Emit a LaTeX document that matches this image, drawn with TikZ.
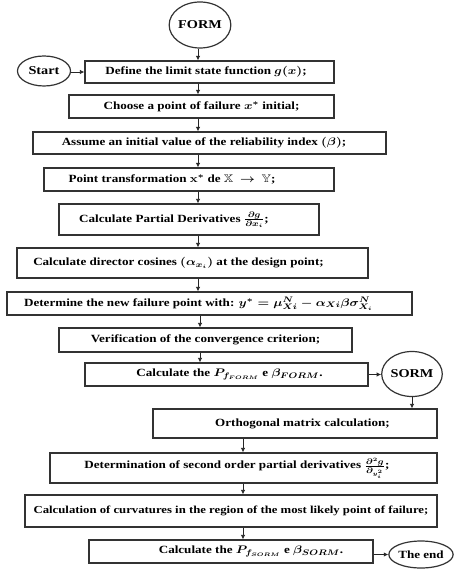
\documentclass[tikz,border=0pt]{standalone}
\usepackage{fontspec}
\setmainfont{Liberation Serif}
\usepackage{amsmath,amssymb}
\usepackage{graphicx}
\usetikzlibrary{shapes.geometric,arrows.meta}
\newcommand{\ST}[1]{\scalebox{1.19}[1]{\bfseries\boldmath #1}}
\newcommand{\TL}[2]{\ST{#2}\hspace*{#1}}
\newcommand{\TR}[2]{\hspace*{#1}\ST{#2}}
\begin{document}
\begin{tikzpicture}[x=1pt,y=-1pt,
  box/.style={draw=black!80, line width=1.3pt, rectangle, inner sep=0pt, font=\fontsize{11}{13}\selectfont},
  term/.style={ellipse, draw=black!80, line width=1.2pt, inner sep=0pt, font=\fontsize{12}{14}\selectfont},
  arr/.style={-{Latex[length=4.5pt,width=4.5pt]}, line width=0.8pt, draw=black!85}]
\useasboundingbox (0,0) rectangle (474,577);
\fill[white] (0,0) rectangle (474,577);
% terminals
\node[term, minimum width=54pt, minimum height=46pt] (form) at (200,25) {\ST{FORM}};
\node[term, minimum width=53pt, minimum height=30pt] (start) at (44,71) {\ST{Start}};
\node[term, minimum width=53pt, minimum height=45pt] (sorm) at (412,374) {\ST{SORM}};
\node[term, minimum width=57pt, minimum height=27pt, font=\fontsize{11}{13}\selectfont] (end) at (421,554.5) {\ST{The end}};
% boxes
\node[box, minimum width=249pt, minimum height=22pt] (b1) at (209.5,72) {\TL{7pt}{Define the limit state function $g(x)$;}};
\node[box, minimum width=265pt, minimum height=23pt] (b2) at (201.5,106.5) {\ST{Choose a point of failure $x^{*}$ initial;}};
\node[box, minimum width=353pt, minimum height=22pt] (b3) at (209.5,143) {\TL{11pt}{Assume an initial value of the reliability index $(\beta)$;}};
\node[box, minimum width=290pt, minimum height=23pt] (b4) at (189,179.5) {\TL{34pt}{Point transformation $\mathbf{x}^{*}$ de $\mathbb{X}\,\rightarrow\,\mathbb{Y}$;}};
\node[box, minimum width=260pt, minimum height=31pt] (b5) at (189,219.5) {\TL{30pt}{Calculate Partial Derivatives $\frac{\partial g}{\partial x_i}$;}};
\node[box, minimum width=351pt, minimum height=30pt] (b6) at (192.5,263) {\TL{28pt}{Calculate director cosines $(\alpha_{x_i})$ at the design point;}};
\node[box, minimum width=405pt, minimum height=23pt] (b7) at (209.5,303.5) {\TL{22pt}{Determine the new failure point with: $y^{*} = \mu^{N}_{Xi} - \alpha_{Xi}\beta\sigma^{N}_{X_i}$}};
\node[box, minimum width=293pt, minimum height=24pt] (b8) at (205.5,340) {\ST{Verification of the convergence criterion;}};
\node[box, minimum width=283pt, minimum height=23pt] (b9) at (226.5,374.5) {\TR{6pt}{Calculate the $P_{f_{FORM}}$ e $\beta_{FORM}$.}};
\node[box, minimum width=284pt, minimum height=29pt] (b10) at (295,423.5) {\TR{15pt}{Orthogonal matrix calculation;}};
\node[box, minimum width=387pt, minimum height=30pt] (b11) at (243.5,468) {\TL{13pt}{Determination of second order partial derivatives $\frac{\partial^2 g}{\partial_{y_i^2}}$;}};
\node[box, minimum width=412pt, minimum height=32pt, font=\fontsize{10.7}{13}\selectfont] (b12) at (231,511) {\ST{Calculation of curvatures in the region of the most likely point of failure;}};
\node[box, minimum width=284pt, minimum height=23pt] (b13) at (231,551.5) {\TR{40pt}{Calculate the $P_{f_{SORM}}$ e $\beta_{SORM}$.}};
% connector columns
\coordinate (ca) at (198,0);
\coordinate (cb) at (200,0);
\coordinate (cc) at (243,0);
% connectors
\draw[arr] (form.south -| ca) -- (b1.north -| ca);
\draw[arr] (start.east |- b1.west) -- (b1.west);
\draw[arr] (b1.south -| ca) -- (b2.north -| ca);
\draw[arr] (b2.south -| ca) -- (b3.north -| ca);
\draw[arr] (b3.south -| ca) -- (b4.north -| ca);
\draw[arr] (b4.south -| ca) -- (b5.north -| ca);
\draw[arr] (b5.south -| ca) -- (b6.north -| ca);
\draw[arr] (b6.south -| ca) -- (b7.north -| ca);
\draw[arr] (b7.south -| cb) -- (b8.north -| cb);
\draw[arr] (b8.south -| cb) -- (b9.north -| cb);
\draw[arr] (b9.east) -- (b9.east -| sorm.west);
\draw[arr] (sorm.south) -- (sorm.south |- b10.north);
\draw[arr] (b10.south -| cc) -- (b11.north -| cc);
\draw[arr] (b11.south -| cc) -- (b12.north -| cc);
\draw[arr] (b12.south -| cc) -- (b13.north -| cc);
\draw[arr] (b13.east |- end.west) -- (end.west);
\end{tikzpicture}
\end{document}
